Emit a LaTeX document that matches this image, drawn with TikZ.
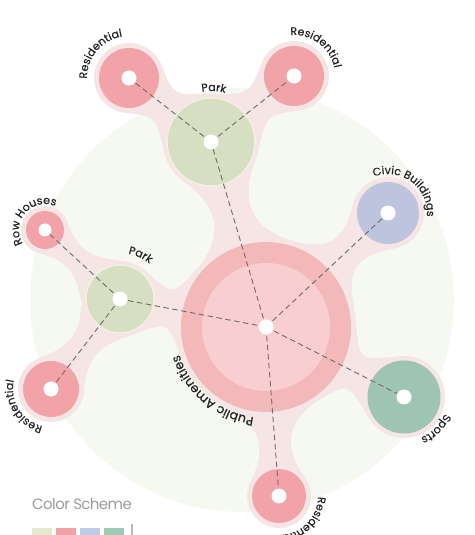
\documentclass[tikz,border=0pt]{standalone}
\usepackage{fontspec}
\setmainfont{Poppins}
\newfontfamily\lblfont[FakeBold=0.3]{Poppins}
\newfontfamily\schemefont[LetterSpace=-4]{Poppins}
\usetikzlibrary{calc, backgrounds, decorations.text}

\definecolor{bgmint}{RGB}{246,249,242}
\definecolor{blob}{RGB}{246,229,229}
\definecolor{respink}{RGB}{242,163,168}
\definecolor{parkgreen}{RGB}{214,223,193}
\definecolor{parkrim}{RGB}{242,240,224}
\definecolor{civicblue}{RGB}{189,196,221}
\definecolor{sportteal}{RGB}{158,196,179}
\definecolor{hubring}{RGB}{243,185,186}
\definecolor{hubcore}{RGB}{248,206,209}
\definecolor{linkgray}{RGB}{115,105,105}
\definecolor{ink}{RGB}{35,35,35}
\definecolor{schemegray}{RGB}{155,155,155}
\definecolor{swgreen}{RGB}{228,233,205}
\definecolor{swpink}{RGB}{241,161,166}
\definecolor{swblue}{RGB}{190,204,230}
\definecolor{swteal}{RGB}{157,202,180}

\newcommand{\tagfont}{\lblfont\fontsize{11pt}{13pt}\selectfont}
\newcommand{\bigtagfont}{\lblfont\fontsize{12.5pt}{15pt}\selectfont}

\tikzset{
  zone/.style={circle, inner sep=0pt, minimum size=#1},
  res/.style={zone=#1, fill=respink},
  park/.style={zone=#1, fill=parkgreen, draw=parkrim, line width=1.5pt},
  civic/.style={zone=#1, fill=civicblue},
  sport/.style={zone=#1, fill=sportteal},
  link/.style={draw=linkgray, line width=0.9pt, dash pattern=on 5.5pt off 3.5pt},
  tag/.style={decorate, decoration={text along path, text color=ink, text align=center, text={|\tagfont|#1}}},
  tagleft/.style={decorate, decoration={text along path, text color=ink, text={|\tagfont|#1}}},
  bigtag/.style={decorate, decoration={text along path, text color=ink, text align=center, text={|\bigtagfont|#1}}},
}

% pink neck between two districts:
% from, to, halo radius from, halo radius to, leaving angle from, leaving angle to, half waist
\newcommand{\blobband}[7]{%
  \path (#1.center); \pgfgetlastxy{\ax}{\ay}
  \path (#2.center); \pgfgetlastxy{\bx}{\by}
  \pgfmathsetmacro{\bandang}{atan2(\by-\ay,\bx-\ax)}
  \pgfmathsetmacro{\bandlen}{veclen(\bx-\ax,\by-\ay)}
  \pgfmathsetmacro{\xa}{#3*cos(#5)}\pgfmathsetmacro{\ya}{#3*sin(#5)}
  \pgfmathsetmacro{\xb}{\bandlen-#4*cos(#6)}\pgfmathsetmacro{\yb}{#4*sin(#6)}
  \pgfmathsetmacro{\kk}{(4*\ya+4*\yb-8*#7)/(3*(cos(#5)+cos(#6)))}
  \pgfmathsetmacro{\cax}{\xa+\kk*sin(#5)}\pgfmathsetmacro{\cay}{\ya-\kk*cos(#5)}
  \pgfmathsetmacro{\cbx}{\xb-\kk*sin(#6)}\pgfmathsetmacro{\cby}{\yb-\kk*cos(#6)}
  \pgfmathsetmacro{\nya}{-\ya}\pgfmathsetmacro{\nyb}{-\yb}
  \pgfmathsetmacro{\ncay}{-\cay}\pgfmathsetmacro{\ncby}{-\cby}
  \begin{scope}[shift={(#1.center)}, rotate=\bandang]
    \fill[blob] (\xa,\ya) .. controls (\cax,\cay) and (\cbx,\cby) .. (\xb,\yb)
      -- (\xb,\nyb) .. controls (\cbx,\ncby) and (\cax,\ncay) .. (\xa,\nya) -- cycle;
  \end{scope}}

% curved label round a district
\newcommand{\arctag}[6][tag]{%
  \path[#1={#6}] ($(#2.center)+(#4:#3)$) arc[start angle=#4, end angle=#5, radius=#3];}

\begin{document}
\begin{tikzpicture}[x=1pt, y=1pt]
  \useasboundingbox (0,0) rectangle (474,535);

  % districts
  \node[zone=170pt, fill=hubring] (hub) at (266,208) {};
  \fill[hubcore] (hub.center) circle (64);
  \node[park=88pt] (parkT) at (211,393) {};
  \node[park=68pt] (parkL) at (120,236) {};
  \node[res=60pt] (resTL) at (129,457) {};
  \node[res=60pt] (resTR) at (294,459) {};
  \node[res=38pt] (rowH) at (45,305) {};
  \node[res=56pt] (resL) at (51,146) {};
  \node[res=54pt] (resB) at (279,39) {};
  \node[civic=62pt] (civic) at (388,322) {};
  \node[sport=73pt] (sports) at (404,138) {};

  % background blob
  \begin{scope}[on background layer]
    \fill[bgmint] (242,235) circle (212);
    \blobband{hub}{parkT}{90}{48}{34}{52}{20}
    \blobband{hub}{civic}{90}{36}{32}{58}{18}
    \blobband{hub}{sports}{90}{41}{32}{58}{19}
    \blobband{hub}{resB}{90}{32}{30}{58}{17}
    \blobband{hub}{parkL}{90}{38}{34}{58}{20}
    \blobband{parkL}{rowH}{38}{24}{55}{62}{13}
    \blobband{parkL}{resL}{38}{33}{55}{58}{15}
    \blobband{parkT}{resTL}{48}{35}{52}{58}{19}
    \blobband{parkT}{resTR}{48}{35}{52}{58}{19}
    \foreach \n/\h in {hub/90, parkT/48, parkL/38, resTL/35, resTR/35, resL/33, resB/32, rowH/24, civic/36, sports/41}
      \fill[blob] (\n.center) circle (\h);
  \end{scope}

  % links
  \draw[link] (hub.center) -- (parkT.center);
  \draw[link] (hub.center) -- (civic.center);
  \draw[link] (hub.center) -- (sports.center);
  \draw[link] (hub.center) -- (resB.center);
  \draw[link] (hub.center) -- (parkL.center);
  \draw[link] (parkL.center) -- (rowH.center);
  \draw[link] (parkL.center) -- (resL.center);
  \draw[link] (parkT.center) -- (resTL.center);
  \draw[link] (parkT.center) -- (resTR.center);

  \foreach \n/\d in {hub/7.5, parkT/7.5, parkL/7.5, resTL/7.5, resTR/7.5, resL/7.5, resB/7.5, rowH/6.5, civic/7.5, sports/7.5}
    \fill[white] (\n.center) circle (\d);

  % labels
  \arctag{resTL}{42pt}{190}{90}{Residential}
  \arctag{parkT}{51pt}{117}{57}{Park}
  \arctag{resTR}{41pt}{103}{3}{Residential}
  \arctag{civic}{39pt}{118}{-12}{Civic Buildings}
  \arctag{rowH}{26pt}{218}{60}{Row Houses}
  \arctag{parkL}{46pt}{100}{30}{Park}
  \arctag{resL}{38pt}{272}{152}{Residential}
  \arctag{sports}{44pt}{350}{280}{Sports}
  \arctag[tagleft]{resB}{39pt}{359}{200}{Residential}
  \arctag[bigtag]{hub}{91pt}{288}{172}{Public Amenities}

  % colour scheme
  \node[anchor=base west, inner sep=0pt, text=schemegray, font=\schemefont\fontsize{15pt}{18pt}\selectfont] (scheme) at (32,25) {Color Scheme};
  \foreach \c [count=\i from 0] in {swgreen, swpink, swblue, swteal}
    \fill[\c] ({32+24*\i},0) rectangle ++(20,7);
  \draw[schemegray!70, line width=1.2pt] (132,0) -- (132,11);
\end{tikzpicture}
\end{document}
